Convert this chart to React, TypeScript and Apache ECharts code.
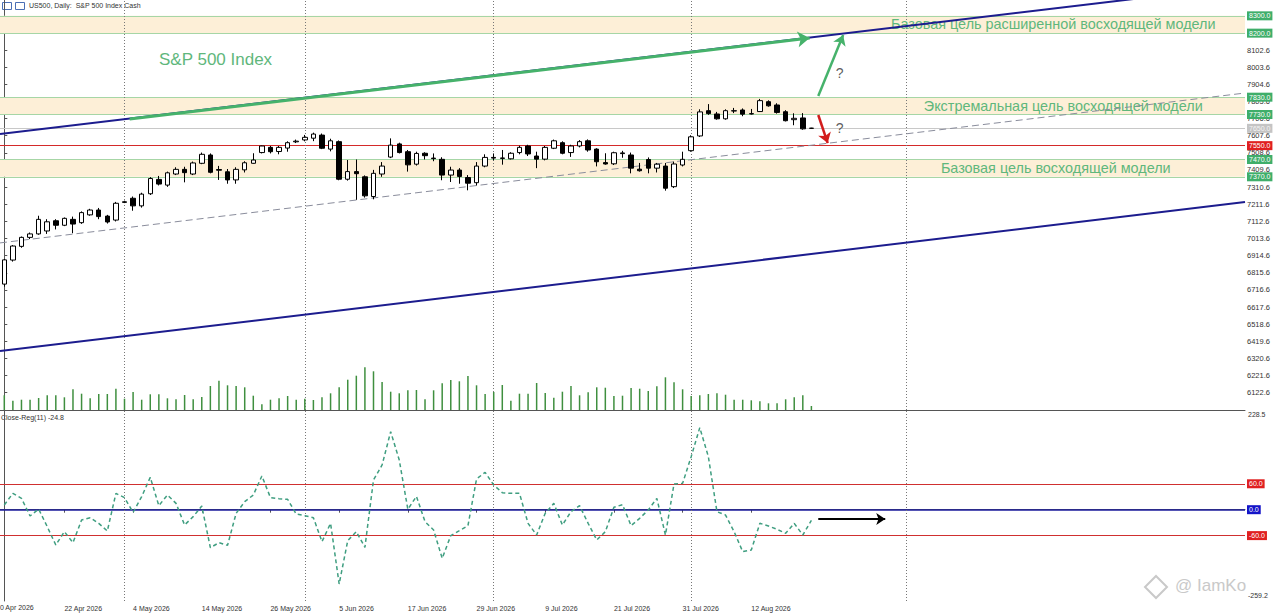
import React, { useEffect, useRef } from "react";
import * as echarts from "echarts";

// ---- categories (trading days shown on the chart) ----
const dates: string[] = [
  "13 Apr 2026", "14 Apr 2026", "15 Apr 2026", "16 Apr 2026", "17 Apr 2026", "20 Apr 2026", "21 Apr 2026",
  "22 Apr 2026", "23 Apr 2026", "24 Apr 2026", "27 Apr 2026", "28 Apr 2026", "29 Apr 2026", "30 Apr 2026",
  "1 May 2026", "4 May 2026", "5 May 2026", "6 May 2026", "7 May 2026", "8 May 2026", "11 May 2026",
  "12 May 2026", "13 May 2026", "14 May 2026", "15 May 2026", "18 May 2026", "19 May 2026", "20 May 2026",
  "21 May 2026", "22 May 2026", "25 May 2026", "26 May 2026", "27 May 2026", "28 May 2026", "29 May 2026",
  "1 Jun 2026", "2 Jun 2026", "3 Jun 2026", "4 Jun 2026", "5 Jun 2026", "8 Jun 2026", "9 Jun 2026",
  "10 Jun 2026", "11 Jun 2026", "12 Jun 2026", "15 Jun 2026", "16 Jun 2026", "17 Jun 2026", "18 Jun 2026",
  "19 Jun 2026", "22 Jun 2026", "23 Jun 2026", "24 Jun 2026", "25 Jun 2026", "26 Jun 2026", "29 Jun 2026",
  "30 Jun 2026", "1 Jul 2026", "2 Jul 2026", "3 Jul 2026", "6 Jul 2026", "7 Jul 2026", "8 Jul 2026",
  "9 Jul 2026", "10 Jul 2026", "13 Jul 2026", "14 Jul 2026", "15 Jul 2026", "16 Jul 2026", "17 Jul 2026",
  "20 Jul 2026", "21 Jul 2026", "22 Jul 2026", "23 Jul 2026", "24 Jul 2026", "27 Jul 2026", "28 Jul 2026",
  "29 Jul 2026", "30 Jul 2026", "31 Jul 2026", "3 Aug 2026", "4 Aug 2026", "5 Aug 2026", "6 Aug 2026",
  "7 Aug 2026", "10 Aug 2026", "11 Aug 2026", "12 Aug 2026", "13 Aug 2026", "14 Aug 2026", "17 Aug 2026",
  "18 Aug 2026", "19 Aug 2026", "20 Aug 2026", "21 Aug 2026",
];
const futureSlots = 50;

// ---- OHLC ----
const opens: number[] = [
  6750, 6889, 6968, 7020, 7040, 7057, 7116, 7090, 7124, 7105, 7150, 7178, 7143, 7120, 7222, 7246, 7202, 7272, 7355, 7322,
  7386, 7413, 7386, 7448, 7496, 7412, 7399, 7352, 7410, 7448, 7510, 7540, 7516, 7536, 7572, 7583, 7593, 7611, 7530, 7573,
  7356, 7400, 7370, 7256, 7386, 7484, 7560, 7515, 7443, 7506, 7478, 7471, 7380, 7409, 7366, 7336, 7432, 7482, 7476, 7474,
  7510, 7548, 7490, 7472, 7535, 7567, 7510, 7548, 7578, 7530, 7452, 7445, 7508, 7496, 7414, 7470, 7420, 7432, 7313, 7438,
  7521, 7606, 7752, 7733, 7705, 7750, 7756, 7733, 7747, 7804, 7785, 7746, 7700, 7710, 7651,
];
const closes: number[] = [
  6890, 6970, 7020, 7040, 7124, 7110, 7090, 7130, 7097, 7163, 7178, 7140, 7109, 7217, 7226, 7202, 7270, 7360, 7328, 7393,
  7413, 7394, 7450, 7500, 7396, 7408, 7352, 7413, 7451, 7467, 7548, 7515, 7540, 7567, 7576, 7598, 7617, 7535, 7578, 7356,
  7400, 7388, 7260, 7390, 7432, 7553, 7510, 7439, 7505, 7492, 7475, 7380, 7409, 7372, 7333, 7432, 7482, 7478, 7479, 7506,
  7540, 7502, 7472, 7540, 7578, 7506, 7548, 7573, 7525, 7457, 7444, 7509, 7504, 7420, 7405, 7420, 7443, 7304, 7444, 7471,
  7601, 7745, 7735, 7705, 7752, 7752, 7732, 7735, 7810, 7780, 7742, 7694, 7708, 7647, 7650,
];
const lows: number[] = [
  6735, 6880, 6960, 7010, 7035, 7040, 7066, 7085, 7044, 7098, 7145, 7125, 7100, 7112, 7218, 7174, 7192, 7265, 7320, 7312,
  7380, 7338, 7380, 7443, 7390, 7352, 7330, 7330, 7395, 7446, 7505, 7505, 7500, 7515, 7565, 7575, 7576, 7530, 7517, 7350,
  7348, 7237, 7250, 7240, 7370, 7478, 7505, 7400, 7435, 7470, 7460, 7350, 7340, 7330, 7292, 7320, 7425, 7465, 7440, 7470,
  7500, 7490, 7420, 7465, 7530, 7500, 7485, 7540, 7515, 7430, 7440, 7438, 7480, 7390, 7400, 7390, 7395, 7290, 7305, 7430,
  7515, 7600, 7728, 7700, 7700, 7738, 7720, 7730, 7745, 7775, 7735, 7690, 7668, 7642, 7648,
];
const highs: number[] = [
  6895, 6975, 7025, 7048, 7145, 7125, 7125, 7135, 7140, 7170, 7185, 7190, 7150, 7225, 7232, 7256, 7278, 7368, 7375, 7400,
  7425, 7428, 7458, 7510, 7505, 7433, 7415, 7425, 7460, 7506, 7550, 7548, 7548, 7575, 7585, 7612, 7625, 7620, 7590, 7580,
  7467, 7470, 7378, 7410, 7455, 7592, 7567, 7525, 7515, 7512, 7505, 7483, 7428, 7420, 7380, 7455, 7500, 7505, 7525, 7512,
  7550, 7555, 7515, 7548, 7585, 7575, 7555, 7582, 7586, 7535, 7506, 7515, 7520, 7510, 7450, 7482, 7450, 7450, 7458, 7515,
  7610, 7760, 7790, 7745, 7760, 7768, 7765, 7762, 7820, 7812, 7795, 7755, 7737, 7738, 7653,
];

// ---- volume (tick volume, arbitrary units) ----
const volumes: number[] = [
  147, 93, 103, 103, 120, 147, 147, 127, 207, 163, 117, 160, 160, 213, 113, 180, 103, 157, 157, 117,
  107, 150, 107, 130, 240, 293, 247, 240, 227, 143, 57, 103, 117, 140, 103, 113, 100, 127, 167, 227,
  303, 343, 427, 387, 280, 183, 167, 197, 200, 107, 197, 267, 300, 287, 340, 247, 160, 180, 250, 93,
  163, 163, 270, 170, 123, 183, 240, 147, 177, 227, 223, 140, 143, 220, 213, 190, 237, 327, 277, 207,
  140, 147, 160, 167, 153, 103, 103, 97, 87, 67, 67, 107, 127, 147, 40,
];

// ---- Close-Reg(11) oscillator ----
const closeReg: number[] = [
  11, 37.8, 26.3, -14.6, 1.6, -39.3, -81.8, -50.9, -76.4, -23.9, -18.5, -31.6, -49.3, 37.8, 27.9, -6.1, 30.2, 74.9, 9.3, 34,
  14.7, -35.4, -16.1, 8.6, -87.9, -76.4, -82.5, -8.4, 18.6, 34, 78, 27.9, 25.6, 24, -10, -13.8, -18.5, -74, -31.6, -172,
  -71.7, -50.9, -87.2, 68.8, 103.5, 180.7, 115, 0.8, 31, -27.7, -47, -112.6, -60.1, -48.6, -37, 71.1, 86.5, 57.2, 39.4, 37.9,
  37.9, -31.6, -58.6, -8.4, 14.7, -35.4, -4.6, 9.3, -31.6, -70.2, -50.9, 5.5, 11.7, -37, -20, -0.7, 26.3, -58.6, 59.5, 61.1,
  122.8, 190, 122.8, -4.6, -12.4, -50.9, -97.2, -93.3, -31.6, -37.7, -45.5, -54.7, -31.6, -58.6, -24.8,
];
const oscLevels = { upper: 60, zero: 0, lower: -60 };
const oscTopLabel = 228.5;
const oscBottomLabel = "-259.2";

// ---- price scale tick labels ----
const priceTicks: number[] = [
  8102.6, 8003.6, 7904.6, 7805.6, 7706.6, 7607.6, 7508.6, 7409.6, 7310.6, 7211.6, 7112.6,
  7013.6, 6914.6, 6815.6, 6716.6, 6617.6, 6518.6, 6419.6, 6320.6, 6221.6, 6122.6,
];
const firstCutLabel = "10 Apr 2026";

// ---- target zones and levels ----
const bandNames = [
  "Базовая цель расширенной восходящей модели",
  "Экстремальная цель восходящей модели",
  "Базовая цель восходящей модели",
];
const bandLows = [8200, 7730, 7370];
const bandHighs = [8300, 7830, 7470];
const supportLevel = 7550;
const lastPrice = 7650;

// ---- trend lines (bar index, price) ----
const upperChannel = [[-0.5, 7617], [144.5, 8474]];
const lowerChannel = [[-0.5, 6363], [144.5, 7224]];
const trendSupport = [[-0.5, 6988], [144.5, 7854]];

// ---- annotations (bar index, value) ----
const trendArrow = [[14.6, 7704], [93.8, 8172]];
const upArrow = [[94.8, 7837], [97.7, 8189]];
const downArrow = [[94.8, 7727], [95.9, 7565]];
const oscArrow = [[94.8, -21.5], [102.6, -21.5]];
const questionMarks = [[97.3, 7970], [97.3, 7652]];
const monthSeparators = [14, 35, 57, 80, 105];

const FONT = "'Liberation Sans', Arial, sans-serif";

export default function App() {
  const ref = useRef<HTMLDivElement>(null);

  useEffect(() => {
    document.body.style.margin = "0";
    if (!ref.current) return;
    const chart = echarts.init(ref.current, null, { renderer: "svg" });

    const N = dates.length + futureSlots;
    const cats = dates.concat(Array.from({ length: futureSlots }, (_, i) => `f${i + 1}`));
    const showDate = (idx: number) => idx < dates.length && idx % 8 === 7;

    const levelLabel = (bg: string, fg = "#fff") => ({
      show: true,
      position: "end",
      distance: 2,
      formatter: (p: any) => Number(p.value).toFixed(1),
      color: fg,
      backgroundColor: bg,
      fontSize: 7,
      fontFamily: FONT,
      padding: [1, 2, 1, 2],
    });

    const bandLines: any[] = [];
    bandLows.forEach((lo, i) => {
      [bandHighs[i], lo].forEach((v) =>
        bandLines.push({ yAxis: v, lineStyle: { color: "#a6d6a6", width: 1, type: "solid" }, label: levelLabel("#3fae6a") })
      );
    });
    bandLines.push({ yAxis: lastPrice, lineStyle: { color: "#c8c8c8", width: 1, type: "solid" }, label: levelLabel("#c4c4c4", "#f4f4f4") });
    bandLines.push({ yAxis: supportLevel, lineStyle: { color: "#d42a2a", width: 1, type: "solid" }, label: levelLabel("#e02020") });

    const bandLabelX = ["84.6%", "85.4%", "84.8%"];

    const arrowLine = (pts: number[][], color: string, width: number, size: number) => [
      { coord: pts[0], symbol: "none", lineStyle: { color, width, type: "solid" } },
      { coord: pts[1], symbol: "arrow", symbolSize: size },
    ];

    const option: any = {
      animation: false,
      backgroundColor: "#ffffff",
      textStyle: { fontFamily: FONT },
      grid: [
        { left: 0, right: 35, top: 0, height: 410 },
        { left: 0, right: 35, top: 360, height: 50 },
        { left: 0, right: 35, top: 411, height: 190 },
      ],
      xAxis: [
        { type: "category", gridIndex: 0, data: cats, boundaryGap: true, show: false },
        { type: "value", gridIndex: 0, min: -0.5, max: N - 0.5, show: false },
        {
          type: "category", gridIndex: 1, data: cats, boundaryGap: true,
          axisLine: { show: true, lineStyle: { color: "#555", width: 1 } },
          axisTick: { show: false }, axisLabel: { show: false }, splitLine: { show: false },
        },
        {
          type: "category", gridIndex: 2, data: cats, boundaryGap: true,
          axisLine: { show: true, lineStyle: { color: "#555", width: 1 } },
          axisTick: { show: true, alignWithLabel: true, interval: (i: number) => showDate(i), length: 3, lineStyle: { color: "#555" } },
          axisLabel: { show: true, interval: (i: number) => showDate(i), align: "left", fontSize: 7, color: "#333", margin: 4, fontFamily: FONT },
          splitLine: { show: false },
        },
        { type: "value", gridIndex: 2, min: -0.5, max: N - 0.5, show: false },
      ],
      yAxis: [
        {
          type: "value", gridIndex: 0, position: "right", min: 6022.6, max: 8391.5,
          splitLine: { show: false },
          axisLine: { show: true, lineStyle: { color: "#555", width: 1 } },
          axisTick: { show: true, customValues: priceTicks, length: 3, lineStyle: { color: "#555" } },
          axisLabel: { customValues: priceTicks, formatter: (v: number) => v.toFixed(1), fontSize: 7.5, color: "#333", margin: 2, fontFamily: FONT },
        },
        { type: "value", gridIndex: 1, min: 0, max: 500, show: false },
        {
          type: "value", gridIndex: 2, position: "right", min: -211.4, max: 228.5,
          splitLine: { show: false },
          axisLine: { show: true, lineStyle: { color: "#555", width: 1 } },
          axisTick: { show: false },
          axisLabel: { customValues: [oscTopLabel], formatter: (v: number) => v.toFixed(1), verticalAlign: "top", fontSize: 7, color: "#333", margin: 3, fontFamily: FONT },
        },
      ],
      series: [
        // target zones + horizontal levels
        {
          type: "line", xAxisIndex: 1, yAxisIndex: 0, data: [], silent: true, z: 1,
          markArea: {
            silent: true, z: 1,
            itemStyle: { color: "#fdefd7" },
            data: bandNames.map((name, i) => [
              {
                name, yAxis: bandLows[i],
                label: {
                  show: true, position: [bandLabelX[i], "50%"], align: "center", verticalAlign: "middle",
                  color: "#5fb77c", fontSize: 14.4, fontFamily: FONT,
                },
              },
              { yAxis: bandHighs[i] },
            ]),
          },
          markLine: { silent: true, symbol: "none", z: 1, data: bandLines },
        },
        // month separators (main)
        {
          type: "line", xAxisIndex: 1, yAxisIndex: 0, data: [], silent: true,
          markLine: {
            silent: true, symbol: "none", z: 1, label: { show: false },
            lineStyle: { color: "#777", width: 1, type: [1, 2] },
            data: monthSeparators.map((x) => ({ xAxis: x })),
          },
        },
        // channel lines
        {
          type: "line", xAxisIndex: 1, yAxisIndex: 0, data: upperChannel, symbol: "none", z: 2,
          lineStyle: { color: "#1c1c8e", width: 2 },
        },
        {
          type: "line", xAxisIndex: 1, yAxisIndex: 0, data: lowerChannel, symbol: "none", z: 2,
          lineStyle: { color: "#1c1c8e", width: 2 },
        },
        {
          type: "line", xAxisIndex: 1, yAxisIndex: 0, data: trendSupport, symbol: "none", z: 2,
          lineStyle: { color: "#8a8d9c", width: 1, type: [7, 4] },
        },
        // candles
        {
          type: "candlestick", xAxisIndex: 0, yAxisIndex: 0, z: 3, barWidth: 5,
          data: opens.map((o, i) => [o, closes[i], lows[i], highs[i]]),
          itemStyle: { color: "#ffffff", color0: "#000000", borderColor: "#000000", borderColor0: "#000000", borderWidth: 1 },
        },
        // volumes
        {
          type: "bar", xAxisIndex: 2, yAxisIndex: 1, data: volumes, barWidth: 1.5,
          itemStyle: { color: "#3f8f3f" },
        },
        // arrows
        {
          type: "line", xAxisIndex: 1, yAxisIndex: 0, data: [], silent: true,
          markLine: {
            silent: true, z: 6, symbol: ["none", "arrow"], symbolSize: 11, label: { show: false },
            data: [
              arrowLine(trendArrow, "#46b26b", 3, 12),
              arrowLine(upArrow, "#46b26b", 2.5, 10),
              arrowLine(downArrow, "#d21c1c", 2.5, 10),
            ],
          },
        },
        // question marks
        {
          type: "scatter", xAxisIndex: 1, yAxisIndex: 0, data: questionMarks, symbolSize: 1, z: 6,
          itemStyle: { color: "rgba(0,0,0,0)" },
          label: { show: true, position: "inside", formatter: "?", fontSize: 14, color: "#333", fontFamily: FONT },
        },
        // oscillator
        {
          type: "line", xAxisIndex: 3, yAxisIndex: 2, data: closeReg, symbol: "none", z: 3,
          lineStyle: { color: "#3f9e80", width: 1.5, type: [4, 3] },
          markLine: {
            silent: true, symbol: "none", z: 1,
            data: [
              { yAxis: oscLevels.upper, lineStyle: { color: "#d03030", width: 1, type: "solid" }, label: levelLabel("#e02020") },
              { yAxis: oscLevels.zero, lineStyle: { color: "#1c1c9c", width: 1.5, type: "solid" }, label: levelLabel("#1414c8") },
              { yAxis: oscLevels.lower, lineStyle: { color: "#d03030", width: 1, type: "solid" }, label: levelLabel("#e02020") },
            ],
          },
        },
        // month separators (oscillator)
        {
          type: "line", xAxisIndex: 4, yAxisIndex: 2, data: [], silent: true,
          markLine: {
            silent: true, symbol: "none", z: 1, label: { show: false },
            lineStyle: { color: "#777", width: 1, type: [1, 2] },
            data: monthSeparators.map((x) => ({ xAxis: x })),
          },
        },
        // oscillator arrow
        {
          type: "line", xAxisIndex: 4, yAxisIndex: 2, data: [], silent: true,
          markLine: {
            silent: true, z: 6, symbol: ["none", "arrow"], symbolSize: 9, label: { show: false },
            data: [arrowLine(oscArrow, "#000000", 2, 9)],
          },
        },
      ],
      graphic: [
        { type: "text", left: 29, top: 2, style: { text: "US500, Daily:  S&P 500 Index Cash", fontSize: 7, fill: "#333", fontFamily: FONT } },
        { type: "rect", left: 2, top: 2, shape: { width: 9, height: 7 }, style: { fill: "#fff", stroke: "#4a6fb5", lineWidth: 1 } },
        { type: "rect", left: 15, top: 2, shape: { width: 9, height: 7 }, style: { fill: "#fff", stroke: "#4a6fb5", lineWidth: 1 } },
        { type: "text", left: 159, top: 51, style: { text: "S&P 500 Index", fontSize: 17, fill: "#5fb77c", fontFamily: FONT } },
        { type: "text", left: 1, top: 414, style: { text: "Close-Reg(11) -24.8", fontSize: 7, fill: "#333", fontFamily: FONT } },
        { type: "text", left: -4, top: 604, style: { text: firstCutLabel, fontSize: 7, fill: "#333", fontFamily: FONT } },
        { type: "text", left: 1248, top: 592, style: { text: oscBottomLabel, fontSize: 7, fill: "#333", fontFamily: FONT } },
        { type: "text", left: 1175, top: 577, style: { text: "@ IamKo", fontSize: 17, fill: "#c9c9c9", fontFamily: FONT } },
        {
          type: "polygon", shape: { points: [[1156, 576], [1167, 587], [1156, 598], [1145, 587]] },
          style: { fill: "none", stroke: "#c9c9c9", lineWidth: 2 },
        },
      ],
    };

    chart.setOption(option);
    return () => chart.dispose();
  }, []);

  return <div ref={ref} style={{ width: 1280, height: 613 }} />;
}
